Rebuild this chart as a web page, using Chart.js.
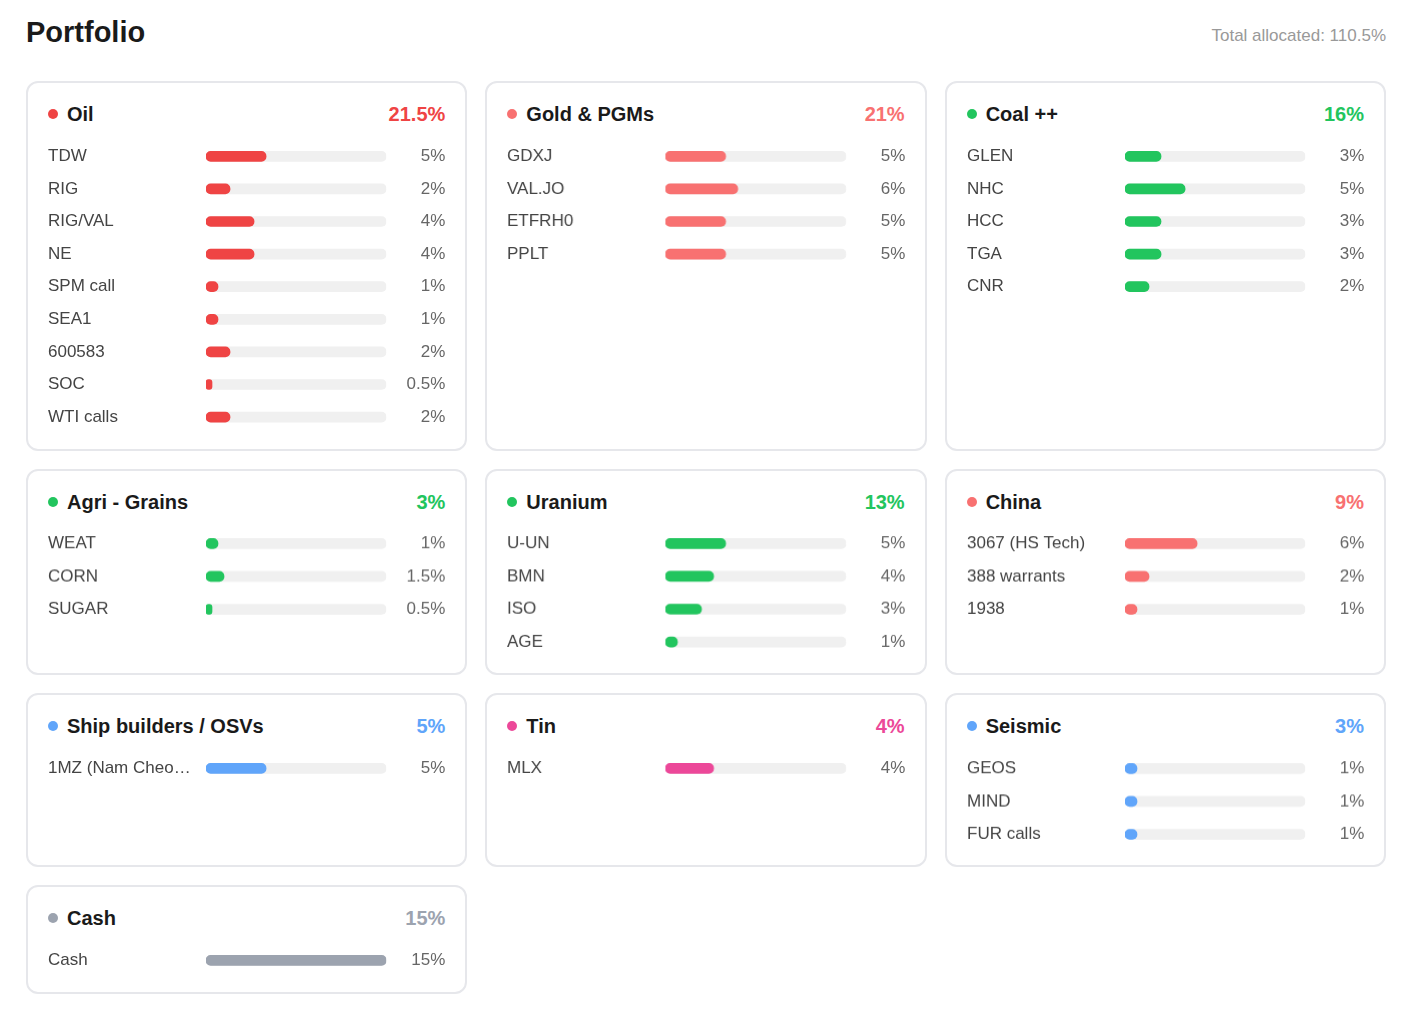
<!DOCTYPE html>
<html>
<head>
<meta charset="utf-8">
<script src="https://cdn.jsdelivr.net/npm/chart.js@4.4.1/dist/chart.umd.min.js"></script>
<style>
  body { margin: 0; background: #fff; font-family: "Helvetica Neue", Helvetica, Arial, "Liberation Sans", sans-serif; }
  .page { position: relative; width: 1360px; margin-left: 26px; }
  .top { position: relative; height: 81px; }
  .top h1 { position: absolute; left: 0; top: 18px; margin: 0; font-size: 29px; line-height: 29px; font-weight: 700; color: #1a1a1a; }
  .top .total { position: absolute; right: 0; top: 27px; font-size: 17px; line-height: 17px; color: #999; }
  .grid { display: grid; grid-template-columns: repeat(3, 1fr); gap: 18px; }
  .card { box-sizing: border-box; border: 2px solid #e6e7eb; border-radius: 12px; padding: 20px 20px 15.5px; }
  .head { display: flex; align-items: center; height: 22px; line-height: 22px; font-size: 20px; font-weight: 700; color: #1a1a1a; }
  .dot { width: 10px; height: 10px; border-radius: 50%; margin-right: 9px; }
  .head .pct { margin-left: auto; }
  .rows { position: relative; margin-top: 14.7px; }
</style>
</head>
<body>
<div class="page">
  <div class="top">
    <h1>Portfolio</h1>
    <div class="total" id="total"></div>
  </div>
  <div class="grid" id="grid"></div>
</div>
<script>
const groupNames = ["Oil", "Gold & PGMs", "Coal ++", "Agri - Grains", "Uranium", "China", "Ship builders / OSVs", "Tin", "Seismic", "Cash"];

const oilTickers = ["TDW", "RIG", "RIG/VAL", "NE", "SPM call", "SEA1", "600583", "SOC", "WTI calls"];
const oilWeights = [5, 2, 4, 4, 1, 1, 2, 0.5, 2];
const goldTickers = ["GDXJ", "VAL.JO", "ETFRH0", "PPLT"];
const goldWeights = [5, 6, 5, 5];
const coalTickers = ["GLEN", "NHC", "HCC", "TGA", "CNR"];
const coalWeights = [3, 5, 3, 3, 2];
const agriTickers = ["WEAT", "CORN", "SUGAR"];
const agriWeights = [1, 1.5, 0.5];
const uraniumTickers = ["U-UN", "BMN", "ISO", "AGE"];
const uraniumWeights = [5, 4, 3, 1];
const chinaTickers = ["3067 (HS Tech)", "388 warrants", "1938"];
const chinaWeights = [6, 2, 1];
const shipTickers = ["1MZ (Nam Cheong)"];
const shipWeights = [5];
const tinTickers = ["MLX"];
const tinWeights = [4];
const seismicTickers = ["GEOS", "MIND", "FUR calls"];
const seismicWeights = [1, 1, 1];
const cashTickers = ["Cash"];
const cashWeights = [15];

const barMax = 15;

const tickerLists = [oilTickers, goldTickers, coalTickers, agriTickers, uraniumTickers, chinaTickers, shipTickers, tinTickers, seismicTickers, cashTickers];
const weightLists = [oilWeights, goldWeights, coalWeights, agriWeights, uraniumWeights, chinaWeights, shipWeights, tinWeights, seismicWeights, cashWeights];
const groupColors = ["#ef4444", "#f87171", "#22c55e", "#22c55e", "#22c55e", "#f87171", "#60a5fa", "#ec4899", "#60a5fa", "#9ca3af"];

const FONT = '"Helvetica Neue", Helvetica, Arial, "Liberation Sans", sans-serif';
const ROW_H = 32.6;

const sum = (arr) => arr.reduce((a, b) => a + b, 0);
const fmt = (v) => `${Math.round(v * 10) / 10}%`;

const measureCtx = document.createElement("canvas").getContext("2d");
measureCtx.font = `17px ${FONT}`;
function clip(text, maxWidth) {
  if (measureCtx.measureText(text).width <= maxWidth) return text;
  let t = text;
  while (t.length && measureCtx.measureText(t + "…").width > maxWidth) t = t.slice(0, -1);
  return t.trimEnd() + "…";
}

document.querySelector("#total").textContent = `Total allocated: ${fmt(sum(weightLists.flat()))}`;

const grid = document.querySelector("#grid");

groupNames.forEach((name, g) => {
  const tickers = tickerLists[g];
  const weights = weightLists[g];
  const color = groupColors[g];

  const card = document.createElement("div");
  card.className = "card";
  card.innerHTML = `
    <div class="head">
      <span class="dot" style="background:${color}"></span>
      <span>${name.replace(/&/g, "&amp;")}</span>
      <span class="pct" style="color:${color}">${fmt(sum(weights))}</span>
    </div>
    <div class="rows" style="height:${tickers.length * ROW_H}px"><canvas></canvas></div>`;
  grid.appendChild(card);

  const ctx = card.querySelector("canvas");
  new Chart(ctx, {
    type: "bar",
    data: {
      labels: tickers,
      datasets: [
        {
          data: weights,
          backgroundColor: color,
          barThickness: 10,
          borderRadius: 5,
          borderSkipped: false,
          grouped: false,
        },
        {
          data: tickers.map(() => barMax),
          backgroundColor: "#f0f0f0",
          barThickness: 10,
          borderRadius: 5,
          borderSkipped: false,
          grouped: false,
        },
      ],
    },
    options: {
      indexAxis: "y",
      responsive: true,
      maintainAspectRatio: false,
      animation: false,
      layout: { padding: 0 },
      plugins: { legend: { display: false }, tooltip: { enabled: false } },
      scales: {
        x: { display: false, min: 0, max: barMax },
        y: {
          position: "left",
          grid: { display: false, drawTicks: false },
          border: { display: false },
          ticks: {
            crossAlign: "far",
            padding: 0,
            color: "#444",
            font: { family: FONT, size: 17 },
            callback(value) {
              return clip(this.getLabelForValue(value), 146);
            },
          },
          afterFit(s) {
            s.width = 158;
            s.paddingTop = 0;
            s.paddingBottom = 0;
          },
        },
        y2: {
          type: "category",
          position: "right",
          offset: true,
          grid: { display: false, drawTicks: false },
          border: { display: false },
          ticks: {
            crossAlign: "far",
            padding: 0,
            color: "#666",
            font: { family: FONT, size: 17 },
            callback(value, index) {
              return fmt(weights[index]);
            },
          },
          afterFit(s) {
            s.width = 59;
            s.paddingTop = 0;
            s.paddingBottom = 0;
          },
        },
      },
    },
  });
});
</script>
</body>
</html>
